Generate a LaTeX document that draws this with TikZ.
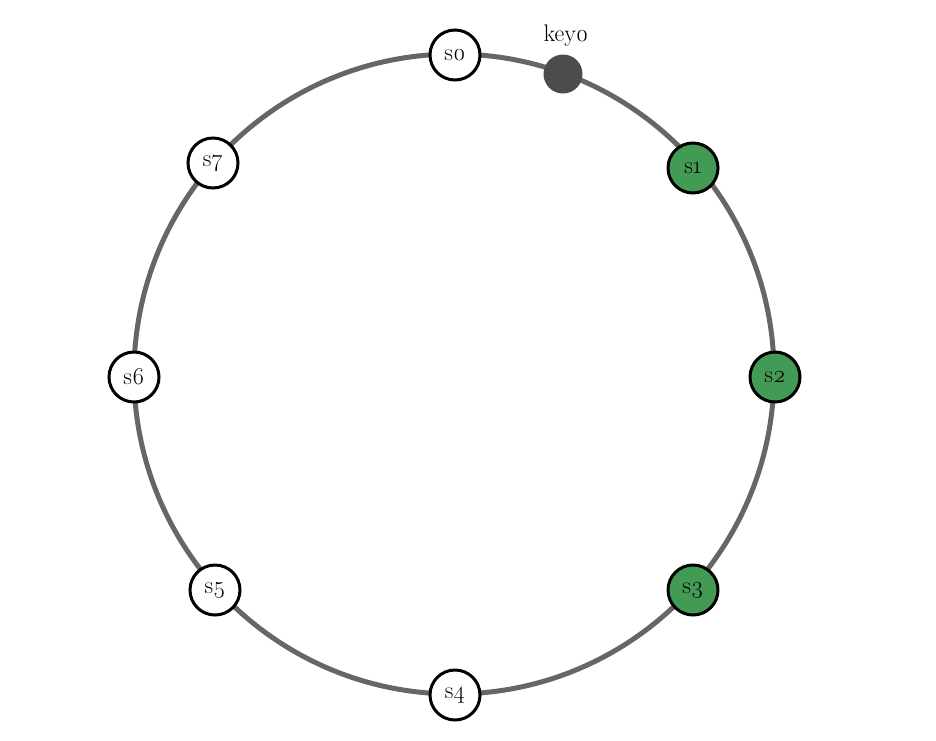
\documentclass[tikz,border=0pt]{standalone}
\usepackage{fontspec}
\setmainfont{Latin Modern Roman}
\definecolor{hotg}{HTML}{429A55}
\begin{document}
\begin{tikzpicture}[x=1pt,y=-1pt,
  srv/.style={circle,draw=black,line width=3pt,minimum size=50pt,inner sep=0pt,fill=white,font=\fontsize{24}{28}\selectfont},
  hot/.style={srv,fill=hotg},
  ring/.style={draw=black!60,line width=5pt}]
\useasboundingbox (0,0) rectangle (936,740);
\coordinate (c) at (454,374);
\draw[ring] (c) circle (320);
\node[srv] (s0) at (455,55) {s\oldstylenums{0}};
\node[hot] (s1) at (693,168) {s\oldstylenums{1}};
\node[hot] (s2) at (775,377) {s\oldstylenums{2}};
\node[hot] (s3) at (693,590) {s\oldstylenums{3}};
\node[srv] (s4) at (455,695) {s\oldstylenums{4}};
\node[srv] (s5) at (215,590) {s\oldstylenums{5}};
\node[srv] (s6) at (134,377) {s\oldstylenums{6}};
\node[srv] (s7) at (213,163) {s\oldstylenums{7}};
\node[circle,fill=black!70,minimum size=39pt,inner sep=0pt] (k) at (563,74) {};
\node[font=\fontsize{24}{28}\selectfont] (kl) at (566,36) {key\oldstylenums{0}};
\end{tikzpicture}
\end{document}
